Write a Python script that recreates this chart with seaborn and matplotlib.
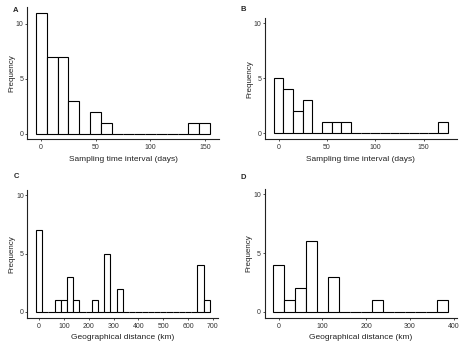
import pandas as pd
import seaborn as sns
import matplotlib.pyplot as plt

# non-empty bins (bin centre -> frequency)
time_a_centres = [0, 10, 20, 30, 50, 60, 140, 150]
time_a_counts = [11, 7, 7, 3, 2, 1, 1, 1]

time_b_centres = [0, 10, 20, 30, 50, 60, 70, 170]
time_b_counts = [5, 4, 2, 3, 1, 1, 1, 1]

dist_c_centres = [0, 75, 100, 125, 150, 225, 275, 325, 650, 675]
dist_c_counts = [7, 1, 1, 3, 1, 1, 5, 2, 4, 1]

dist_d_centres = [0, 25, 50, 75, 125, 225, 375]
dist_d_counts = [4, 1, 2, 6, 3, 1, 1]

time_ticks_a = [0, 50, 100, 150]
time_ticks_b = [0, 50, 100, 150]
dist_ticks_c = [0, 100, 200, 300, 400, 500, 600, 700]
dist_ticks_d = [0, 100, 200, 300, 400]
freq_ticks = [0, 5, 10]

sns.set_style("ticks")
plt.rcParams['font.family'] = ['Liberation Sans', 'DejaVu Sans']

W, H = 474, 352
fig = plt.figure(figsize=(W / 100, H / 100), dpi=100)


def px_axes(left, right, top, bottom):
    return fig.add_axes([left / W, 1 - bottom / H, (right - left) / W, (bottom - top) / H])


panels = [
    # label, centres, counts, binwidth, bins lo/hi, rect, ylim, ticks, xlabel, label pos
    ("A", time_a_centres, time_a_counts, 10, (-5, 155), (27, 219, 7.3, 139), (-0.48, 11.5),
     time_ticks_a, "Sampling time interval (days)", (15.7, 10)),
    ("B", time_b_centres, time_b_counts, 10, (-5, 175), (265, 456.5, 18.3, 139), (-0.5, 10.45),
     time_ticks_b, "Sampling time interval (days)", (243.3, 9.3)),
    ("C", dist_c_centres, dist_c_counts, 25, (-12.5, 687.5), (27.3, 218.5, 190, 317.7), (-0.5, 10.45),
     dist_ticks_c, "Geographical distance (km)", (16, 177)),
    ("D", dist_d_centres, dist_d_counts, 25, (-12.5, 387.5), (264.5, 457, 189, 317.7), (-0.5, 10.45),
     dist_ticks_d, "Geographical distance (km)", (243.3, 177.3)),
]

for lab, centres, counts, bw, (lo, hi), rect, ylim, xticks, xlabel, (lx, ly) in panels:
    ax = px_axes(*rect)
    df = pd.DataFrame({"centre": centres, "count": counts})
    sns.histplot(data=df, x="centre", weights="count", binwidth=bw, binrange=(lo, hi), ax=ax,
                 color="white", edgecolor="black", linewidth=0.8, alpha=1)
    ax.set_ylim(*ylim)
    ax.set_xlim(lo - 0.05 * (hi - lo), hi + 0.05 * (hi - lo))
    ax.set_xticks(xticks)
    ax.set_yticks(freq_ticks)
    ax.tick_params(labelsize=5.0, length=1.5, width=0.6, pad=1.0, colors="#333333")
    ax.tick_params(axis="x", pad=2.0)
    for side in ("top", "right"):
        ax.spines[side].set_visible(False)
    for side in ("left", "bottom"):
        ax.spines[side].set_linewidth(0.8)
        ax.spines[side].set_color("#222222")
    ax.set_xlabel(xlabel, fontsize=6.0, labelpad=3.5, color="#222222")
    ax.set_ylabel("Frequency", fontsize=5.8, labelpad=0.5, color="#222222")
    fig.text(lx / W, 1 - ly / H, lab, fontsize=5.5, fontweight="heavy", ha="center", va="center")

fig.savefig("out.png", dpi=100)
